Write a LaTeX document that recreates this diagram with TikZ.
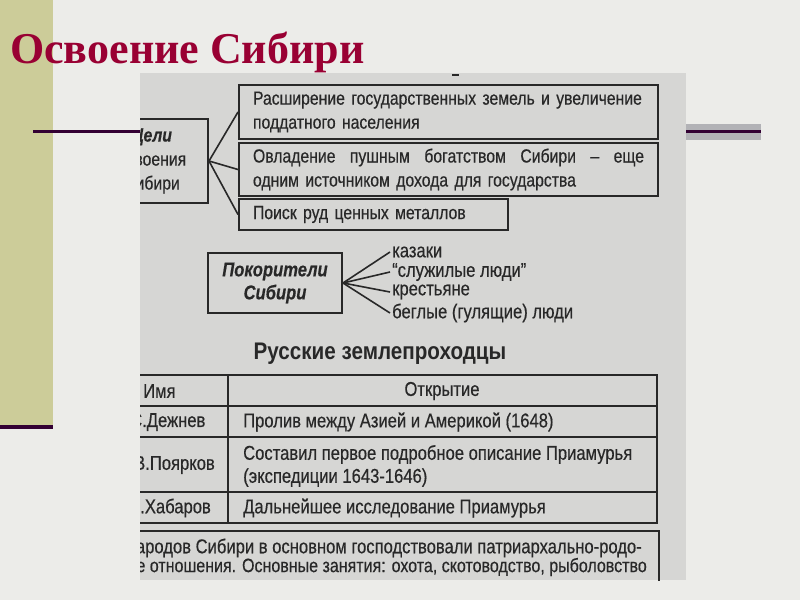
\documentclass[tikz,border=0pt]{standalone}
\usepackage{fontspec}
\setmainfont{Liberation Sans}
\newfontfamily\titlefont{Liberation Serif}
\newfontfamily\scanfont[FakeStretch=0.83,FakeBold=0.4]{Liberation Sans}
\newfontfamily\headfont[FakeStretch=0.86]{Liberation Sans}
\newcommand\scansize{\fontsize{19}{24}\selectfont}
\newcommand\tablesize{\fontsize{20}{23}\selectfont}
\definecolor{paper}{RGB}{236,236,233}
\definecolor{barolive}{RGB}{204,204,153}
\definecolor{linedark}{RGB}{51,0,51}
\definecolor{titlered}{RGB}{153,0,51}
\definecolor{scangray}{RGB}{214,214,212}
\definecolor{bandgray}{RGB}{178,178,182}
\definecolor{ink}{RGB}{40,40,40}
\begin{document}
\begin{tikzpicture}[x=1pt, y=-1pt,
  box/.style={draw=ink, line width=2pt, text=ink, font=\scanfont\scansize},
  goalbox/.style={box, anchor=north west, inner xsep=14pt, inner ysep=0pt, align=left},
  item/.style={text=ink, font=\scanfont\tablesize, inner sep=2pt, anchor=west},
  cell/.style={text=ink, font=\scanfont\tablesize, inner sep=0pt},
  link/.style={draw=ink, line width=1.6pt},
  rule/.style={draw=ink, line width=2.2pt}]
  \useasboundingbox (0,0) rectangle (800,600);
  \fill[paper] (0,0) rectangle (800,600);
  \fill[barolive] (0,0) rectangle (53,425);
  \fill[linedark] (0,425) rectangle (53,429);
  \node[anchor=base west, inner sep=0pt, text=titlered, font=\titlefont\bfseries\fontsize{44}{52}\selectfont] (title) at (10,63) {Освоение Сибири};
  \draw[linedark, line width=2.5pt] (33,131.5) -- (140,131.5);
  \fill[bandgray] (686,124) rectangle (761,140);
  \draw[linedark, line width=2.5pt] (686,131.5) -- (761,131.5);
  \fill[scangray] (140,73) rectangle (686,580);
  \begin{scope}
    \clip (140,73) rectangle (686,580);
    \draw[ink, line width=1.5pt] (452,75) -- (459,75);
    \node[box, anchor=north west, minimum width=112, minimum height=84, align=center, inner sep=0pt] (aims) at (95,118) {\textbf{\textit{Цели}}\\освоения\\Сибири};
    \node[goalbox, minimum height=54, text width=391] (g1) at (238,84) {Расширение государственных земель и увеличение\\поддатного населения};
    \node[goalbox, minimum height=53, text width=391] (g2) at (238,142) {Овладение\hfill пушным\hfill богатством\hfill Сибири\hfill –\hfill еще\\одним источником дохода для государства};
    \node[goalbox, minimum height=31, text width=241] (g3) at (238,198) {Поиск руд ценных металлов};
    \foreach \g in {g1,g2,g3}
      \draw[link] (aims.east) -- (\g.west);
    \node[box, minimum width=134, minimum height=60, align=center, inner sep=0pt, font=\scanfont\tablesize\bfseries\itshape] (conq) at (275,283) {Покорители\\Сибири};
    \node[item] (k1) at (390,252) {казаки};
    \node[item] (k2) at (390,272) {“служилые люди”};
    \node[item] (k3) at (390,292) {крестьяне};
    \node[item] (k4) at (390,313) {беглые (гулящие) люди};
    \foreach \k in {k1,k2,k3,k4}
      \draw[link] (conq.east) -- (\k.west);
    \node[cell, font=\headfont\bfseries\fontsize{24}{28}\selectfont] (head) at (380,354) {Русские землепроходцы};
    \draw[rule] (100,375) rectangle (657,523);
    \foreach \r in {406,437,492}
      \draw[rule] (100,\r) -- (657,\r);
    \draw[rule] (228,375) -- (228,523);
    \node[cell, anchor=west] (hname) at (143,391) {Имя};
    \node[cell] (hfind) at (442,391) {Открытие};
    \node[cell, anchor=west] (n1) at (130,422) {С.Дежнев};
    \node[cell, anchor=west] (n2) at (134,465) {В.Поярков};
    \node[cell, anchor=west] (n3) at (129,508) {Е.Хабаров};
    \node[cell, anchor=west] (d1) at (243,422) {Пролив между Азией и Америкой (1648)};
    \node[cell, anchor=west, align=left] (d2) at (243,466) {Составил первое подробное описание Приамурья\\(экспедиции 1643-1646)};
    \node[cell, anchor=west] (d3) at (243,508) {Дальнейшее исследование Приамурья};
    \draw[rule] (100,531) rectangle (659,620);
    \node[cell, anchor=east] (t1) at (642,548) {У народов Сибири в основном господствовали патриархально-родо-};
    \node[cell, anchor=east, font=\scanfont\fontsize{19.3}{23}\selectfont] (t2) at (647,567) {вые отношения. Основные занятия: охота, скотоводство, рыболовство};
  \end{scope}
\end{tikzpicture}
\end{document}
